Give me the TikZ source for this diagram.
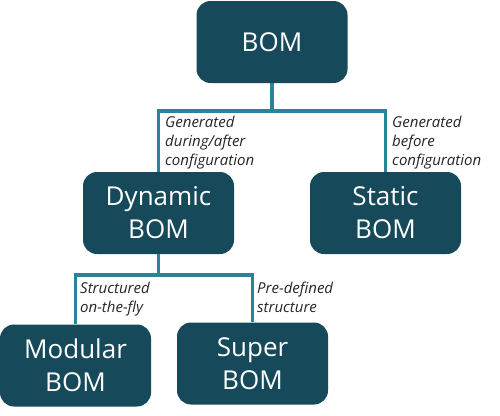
\documentclass[tikz,border=0pt]{standalone}
\usepackage{fontspec}
\setmainfont{Open Sans}

\definecolor{BoxColor}{HTML}{164A5A}
\definecolor{LinkColor}{HTML}{27849A}
\definecolor{NoteColor}{HTML}{262626}
\tikzstyle{block}=[rectangle,
                   fill=BoxColor,
                   rounded corners=14pt,
                   minimum width=151pt,
                   minimum height=82pt,
                   text=white,
                   align=center,
                   font=\fontsize{26}{33}\selectfont]
\tikzstyle{link}=[draw=LinkColor, line width=3.5pt]
\tikzstyle{note}=[anchor=north west,
                  align=left,
                  inner sep=0pt,
                  text=NoteColor,
                  font=\itshape\fontsize{15}{19}\selectfont]

\begin{document}
\begin{tikzpicture}[x=1pt, y=1pt]
    \useasboundingbox (0,0) rectangle (500,-415);

      \node at (272.0,  -42.0) (bom)     [block] {BOM};
      \node at (158.5, -213.0) (dynamic) [block] {Dynamic\\BOM};
      \node at (385.5, -213.0) (static)  [block] {Static\\BOM};
      \node at ( 75.5, -365.5) (modular) [block] {Modular\\BOM};
      \node at (252.5, -363.5) (super)   [block] {Super\\BOM};

      \begin{scope}[on background layer/.try]
      \draw[link] (bom.south)     -- ++(0,-28) -| (dynamic.north);
      \draw[link] (bom.south)     -- ++(0,-28) -| (static.north);
      \draw[link] (dynamic.south) -- ++(0,-21) -| (modular.north);
      \draw[link] (dynamic.south) -- ++(0,-21) -| (super.north);
      \end{scope}

      \node at (165, -116) (gen_dyn) [note] {Generated\\during/after\\configuration};
      \node at (392, -116) (gen_sta) [note] {Generated\\before\\configuration};
      \node at ( 80, -282) (str_fly) [note] {Structured\\on-the-fly};
      \node at (257, -282) (str_pre) [note] {Pre-defined\\structure};
\end{tikzpicture}
\end{document}
